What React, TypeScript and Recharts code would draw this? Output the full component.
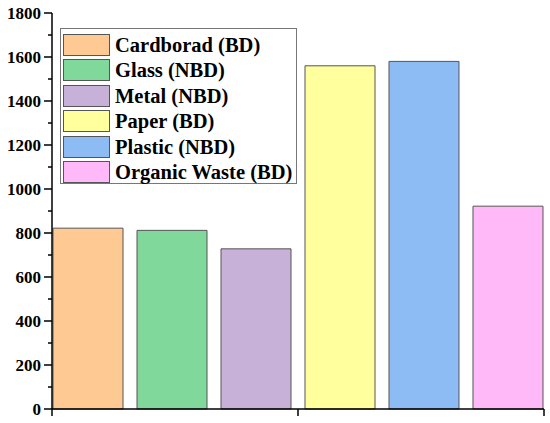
import React from 'react';
import { BarChart, Bar, XAxis, YAxis, Cell } from 'recharts';

const categories = ['Cardborad (BD)', 'Glass (NBD)', 'Metal (NBD)', 'Paper (BD)', 'Plastic (NBD)', 'Organic Waste (BD)'];
const values = [822, 812, 728, 1560, 1580, 922];
const colors = ['#FFC993', '#80D99B', '#C8B1D8', '#FFFF9E', '#8DBCF4', '#FFB8F8'];
const yTicks = [0, 100, 200, 300, 400, 500, 600, 700, 800, 900, 1000, 1100, 1200, 1300, 1400, 1500, 1600, 1700, 1800];

// x axis spans a little past the outer bars so they touch the axis ends
const X_MIN = 0.0714;
const X_MAX = 5.9286;

const data = categories.map((name, i) => ({ name, pos: i + 0.5, value: values[i] }));

const FONT = 'Liberation Serif, Times New Roman, serif';

const YTick = (props: any) => {
  const { x, y, payload } = props;
  const major = payload.value % 200 === 0;
  return (
    <g>
      <line x1={x - (major ? 8 : 4)} x2={x} y1={y} y2={y} stroke="#000" strokeWidth={1.5} />
      {major && (
        <text x={x - 11} y={y} dy="0.36em" textAnchor="end" fontFamily={FONT} fontWeight="bold" fontSize={17} fill="#000">
          {payload.value}
        </text>
      )}
    </g>
  );
};

const LegendBox = () => (
  <div
    style={{
      position: 'absolute', left: 60, top: 28, width: 235, height: 151,
      border: '1px solid #777', background: '#fff', paddingTop: 3,
    }}
  >
    {categories.map((c, i) => (
      <div key={c} style={{ display: 'flex', alignItems: 'center', height: 25.5, marginLeft: 2 }}>
        <div style={{ width: 45, height: 20, background: colors[i], border: '1px solid #555', flexShrink: 0 }} />
        <span style={{ marginLeft: 5, fontFamily: FONT, fontWeight: 'bold', fontSize: 20.5, color: '#000', whiteSpace: 'nowrap', lineHeight: '20px' }}>{c}</span>
      </div>
    ))}
  </div>
);

export default function App() {
  return (
    <div style={{ position: 'absolute', left: 0, top: 0, width: 550, height: 423, background: '#fff' }}>
      <BarChart width={550} height={423} data={data} margin={{ top: 13, right: 6, bottom: 0, left: 0 }}>
        <XAxis
          dataKey="pos"
          type="number"
          domain={[X_MIN, X_MAX]}
          ticks={[X_MIN, 3, X_MAX]}
          tickFormatter={() => ''}
          tickSize={7}
          height={14}
          axisLine={{ stroke: '#000', strokeWidth: 1.5 }}
          tickLine={{ stroke: '#000', strokeWidth: 1.5 }}
          allowDataOverflow
        />
        <YAxis
          type="number"
          domain={[0, 1800]}
          ticks={yTicks}
          interval={0}
          width={52}
          tickSize={0}
          tickMargin={0}
          tickLine={false}
          tick={<YTick />}
          axisLine={{ stroke: '#000', strokeWidth: 1.5 }}
        />
        <Bar dataKey="value" barSize={70} stroke="#555" strokeWidth={1} isAnimationActive={false}>
          {data.map((d, i) => (
            <Cell key={d.name} fill={colors[i]} />
          ))}
        </Bar>
      </BarChart>
      <LegendBox />
    </div>
  );
}
